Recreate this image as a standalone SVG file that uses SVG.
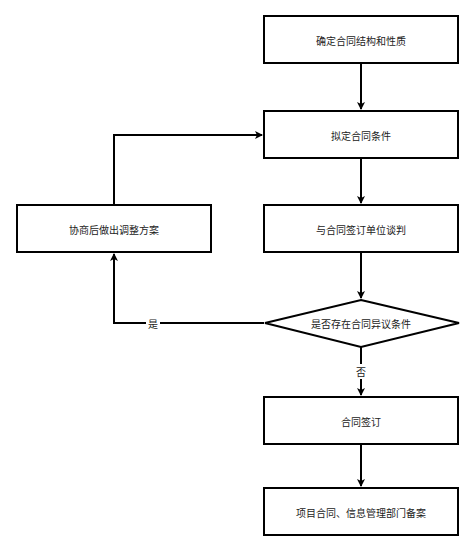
<svg xmlns="http://www.w3.org/2000/svg" width="474" height="552" viewBox="0 0 474 552">
<defs>
<marker id="arr" markerWidth="10" markerHeight="10" refX="8" refY="5" orient="auto" markerUnits="userSpaceOnUse">
<path d="M1,1 L9,5 L1,9 L3,5 Z" fill="#000"/>
</marker>
<style>
.box{fill:#fff;stroke:#000;stroke-width:2}
.t{font-family:"Noto Sans CJK SC","Noto Sans",sans-serif;font-size:10px;fill:#222;text-anchor:middle;dominant-baseline:central}
.c{fill:none;stroke:#000;stroke-width:2}
</style>
</defs>
<rect width="474" height="552" fill="#fff"/>
<g id="connectors">
<path class="c" d="M361,63 L361,109" marker-end="url(#arr)"/>
<path class="c" d="M361,158 L361,203" marker-end="url(#arr)"/>
<path class="c" d="M361,252 L361,298" marker-end="url(#arr)"/>
<path class="c" d="M264,323 L114,323 L114,254" marker-end="url(#arr)"/>
<path class="c" d="M114,205 L114,135 L262,135" marker-end="url(#arr)"/>
<path class="c" d="M361,347 L361,395" marker-end="url(#arr)"/>
<path class="c" d="M361,444 L361,486" marker-end="url(#arr)"/>
<rect x="146" y="316" width="14" height="14" fill="#fff"/>
<text class="t" x="153" y="323">是</text>
<rect x="354" y="364" width="14" height="15" fill="#fff"/>
<text class="t" x="361" y="371.5">否</text>
</g>
<g id="n1"><rect class="box" x="264" y="16" width="194" height="47"/><text class="t" x="361" y="40">确定合同结构和性质</text></g>
<g id="n2"><rect class="box" x="264" y="111" width="194" height="47"/><text class="t" x="361" y="135">拟定合同条件</text></g>
<g id="n3"><rect class="box" x="264" y="205" width="194" height="47"/><text class="t" x="361" y="229">与合同签订单位谈判</text></g>
<g id="n4"><rect class="box" x="17" y="205" width="194" height="47"/><text class="t" x="114" y="229">协商后做出调整方案</text></g>
<g id="n5"><polygon class="box" points="361,300 459,323 361,347 265,323"/><text class="t" x="361" y="323">是否存在合同异议条件</text></g>
<g id="n6"><rect class="box" x="264" y="397" width="194" height="47"/><text class="t" x="361" y="421">合同签订</text></g>
<g id="n7"><rect class="box" x="264" y="488" width="194" height="47"/><text class="t" x="361" y="512">项目合同、信息管理部门备案</text></g>
</svg>
